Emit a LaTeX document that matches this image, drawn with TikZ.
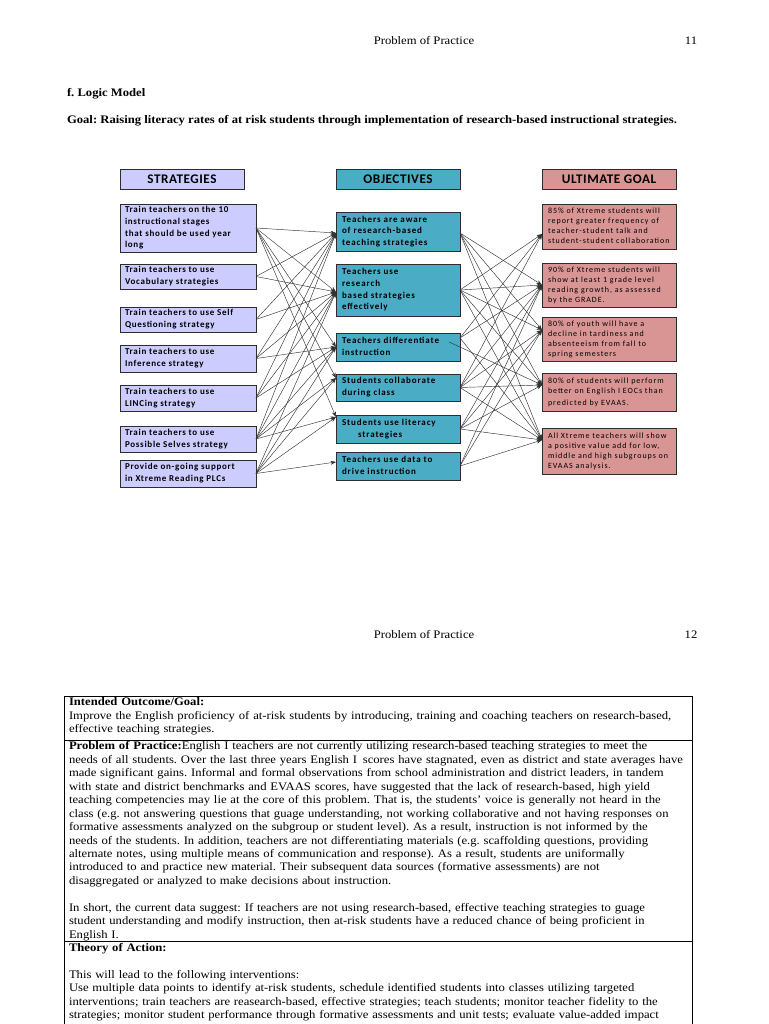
\documentclass[tikz,border=0pt]{standalone}
\usepackage{fontspec}
\setmainfont{Liberation Serif}[FakeStretch=1.1]
\newfontfamily\diag[LetterSpace=8]{Carlito}
\newfontfamily\diagobj[LetterSpace=10]{Carlito}
\newfontfamily\diagg[LetterSpace=12]{Carlito}
\newfontfamily\diaghdr[LetterSpace=4]{Carlito}
\usetikzlibrary{arrows.meta,calc}
\definecolor{stratfill}{RGB}{204,204,255}
\definecolor{objfill}{RGB}{75,172,198}
\definecolor{goalfill}{RGB}{217,149,148}
\definecolor{edgec}{RGB}{45,45,45}
\newcommand{\boxlines}[2]{\makebox[#1][l]{\begin{tabular}{@{}l@{}}#2\end{tabular}}}
\AtBeginDocument{\frenchspacing}
\begin{document}
\begin{tikzpicture}[x=1pt,y=-1pt,
  every node/.style={inner sep=0pt, outer sep=0pt},
  pagetext/.style={font=\fontsize{11.5}{13.6}\selectfont},
  hdr/.style={draw=edgec, line width=0.8pt, minimum height=20pt, font=\diaghdr\fontsize{13.2}{14}\selectfont\bfseries},
  sbox/.style={draw=edgec, line width=0.8pt, fill=stratfill, inner xsep=5pt, minimum width=136pt, font=\diag\fontsize{9}{11.7}\selectfont\bfseries},
  obox/.style={draw=edgec, line width=0.8pt, fill=objfill, inner xsep=6pt, minimum width=124pt, font=\diagobj\fontsize{9}{11.7}\selectfont\bfseries},
  gbox/.style={draw=edgec, line width=0.8pt, fill=goalfill, inner xsep=6pt, minimum width=134pt, font=\diagg\fontsize{8}{10}\selectfont},
  link/.style={draw=black!80, line width=0.45pt, -{Stealth[length=5.5pt,width=4pt]}},
  rowtext/.style={anchor=north west, align=left, text width=660pt, font=\fontsize{11.5}{13.45}\selectfont},
]
\useasboundingbox[fill=white] (0,0) rectangle (768,1024);

% ---------- page 11 ----------
\node[pagetext] (p1title) at (424,41) {Problem of Practice};
\node[pagetext] (p1num) at (691,41) {11};
\node[pagetext, anchor=west, font=\fontsize{11.5}{13.6}\selectfont\bfseries] (sect) at (67,94) {f. Logic Model};
\node[pagetext, anchor=west, font=\fontsize{11.5}{13.6}\selectfont\bfseries] (goal) at (67,121) {Goal: Raising literacy rates of at risk students through implementation of research-based instructional strategies.};

% headers
\node[hdr, fill=stratfill, minimum width=124pt] (HS) at (182,179) {STRATEGIES};
\node[hdr, fill=objfill, minimum width=124pt] (HO) at (398,179) {OBJECTIVES};
\node[hdr, fill=goalfill, minimum width=134pt] (HG) at (609,179) {ULTIMATE GOAL};

% strategies
\node[sbox, minimum height=48pt] (S1) at (188,228) {\boxlines{126pt}{Train teachers on the 10\\instructional stages\\that should be used year\\long}};
\node[sbox, minimum height=25pt] (S2) at (188,276.5) {\boxlines{126pt}{Train teachers to use\\Vocabulary strategies}};
\node[sbox, minimum height=25pt] (S3) at (188,319.5) {\boxlines{126pt}{Train teachers to use Self\\Questioning strategy}};
\node[sbox, minimum height=27pt] (S4) at (188,358.5) {\boxlines{126pt}{Train teachers to use\\Inference strategy}};
\node[sbox, minimum height=26pt] (S5) at (188,398) {\boxlines{126pt}{Train teachers to use\\LINCing strategy}};
\node[sbox, minimum height=26pt] (S6) at (188,439) {\boxlines{126pt}{Train teachers to use\\Possible Selves strategy}};
\node[sbox, minimum height=27pt] (S7) at (188,473.5) {\boxlines{126pt}{Provide on-going support\\in Xtreme Reading PLCs}};

% objectives
\node[obox, minimum height=39pt] (O1) at (398,231.5) {\boxlines{112pt}{Teachers are aware\\of research-based\\teaching strategies}};
\node[obox, minimum height=52pt] (O2) at (398,290) {\boxlines{112pt}{Teachers use\\research\\based strategies\\effectively}};
\node[obox, minimum height=28pt] (O3) at (398,347) {\boxlines{112pt}{Teachers differentiate\\instruction}};
\node[obox, minimum height=27pt] (O4) at (398,387.5) {\boxlines{112pt}{Students collaborate\\during class}};
\node[obox, minimum height=28pt] (O5) at (398,429) {\boxlines{112pt}{Students use literacy\\\hspace*{16pt}strategies}};
\node[obox, minimum height=28pt] (O6) at (398,466) {\boxlines{112pt}{Teachers use data to\\drive instruction}};

% goals
\node[gbox, minimum height=45pt] (G1) at (609,226.5) {\boxlines{122pt}{85\% of Xtreme students will\\report greater frequency of\\teacher-student talk and\\student-student collaboration}};
\node[gbox, minimum height=44pt] (G2) at (609,285) {\boxlines{122pt}{90\% of Xtreme students will\\show at least 1 grade level\\reading growth, as assessed\\by the GRADE.}};
\node[gbox, minimum height=44pt] (G3) at (609,339) {\boxlines{122pt}{80\% of youth will have a\\decline in tardiness and\\absenteeism from fall to\\spring semesters}};
\node[gbox, minimum height=38pt] (G4) at (609,392) {\boxlines{122pt}{80\% of students will perform\\better on English I EOCs than\\[2pt]predicted by EVAAS.}};
\node[gbox, minimum height=46pt] (G5) at (609,451) {\boxlines{122pt}{All Xtreme teachers will show\\a positive value add for low,\\middle and high subgroups on\\EVAAS analysis.}};

% connector end points
\coordinate (o1in) at ([yshift=-1.5pt]O1.west);
\coordinate (o2in) at ([yshift=-2pt]O2.west);
\coordinate (o3in) at (O3.west);
\coordinate (o4in) at ([yshift=9.5pt]O4.west);
\coordinate (o5in) at ([yshift=12pt]O5.west);
\coordinate (o6in) at ([yshift=4pt]O6.west);

\coordinate (o1out) at ([yshift=-1.5pt]O1.east);
\coordinate (o2out) at (O2.east);
\coordinate (o3out) at ([yshift=9pt]O3.east);
\coordinate (o3inner) at ([xshift=-11pt,yshift=5pt]O3.east);
\coordinate (o4out) at (O4.east);
\coordinate (o5out) at (O5.east);
\coordinate (o6out) at (O6.east);

\coordinate (g1in) at ([yshift=-7.5pt]G1.west);
\coordinate (g2in) at (G2.west);
\coordinate (g3in) at ([yshift=9pt]G3.west);
\coordinate (g4in) at ([yshift=7pt]G4.west);
\coordinate (g5in) at ([yshift=11pt]G5.west);

% strategies -> objectives
\foreach \s/\o in {S1/o1in,S1/o2in,S1/o3in,S1/o4in,S1/o5in,
                   S2/o1in,S2/o2in,
                   S3/o1in,S3/o2in,
                   S4/o1in,S4/o2in,S4/o3in,
                   S5/o1in,S5/o2in,S5/o3in,
                   S6/o1in,S6/o2in,S6/o3in,S6/o4in,S6/o5in,
                   S7/o2in,S7/o3in,S7/o4in,S7/o5in,S7/o6in}
  \draw[link] (\s.east) -- (\o);

% objectives -> goals
\foreach \o/\g in {o1out/g2in,o1out/g3in,o1out/g4in,o1out/g5in,
                   o2out/g1in,o2out/g2in,o2out/g3in,o2out/g4in,o2out/g5in,
                   o3out/g1in,o3out/g2in,o3inner/g4in,o3out/g5in,
                   o4out/g1in,o4out/g2in,o4out/g3in,o4out/g4in,o4out/g5in,
                   o5out/g2in,o5out/g3in,o5out/g4in,o5out/g5in,
                   o6out/g2in,o6out/g3in,o6out/g5in}
  \draw[link] (\o) -- (\g);

% ---------- page 12 ----------
\node[pagetext] (p2title) at (424,635) {Problem of Practice};
\node[pagetext] (p2num) at (691,635) {12};

\coordinate (tl) at (64,696);
\coordinate (tr) at (692,696);
\coordinate (s1l) at (64,740);
\coordinate (s1r) at (692,740);
\coordinate (s2l) at (64,941);
\coordinate (s2r) at (692,941);
\coordinate (bl) at (64,1025);
\coordinate (br) at (692,1025);
\draw[line width=0.6pt] (bl) -- (tl) -- (tr) -- (br);
\draw[line width=0.6pt] (s1l) -- (s1r);
\draw[line width=0.6pt] (s2l) -- (s2r);

\node[rowtext] (row1) at (69,698) {\textbf{Intended Outcome/Goal:}\\
Improve the English proficiency of at-risk students by introducing, training and coaching teachers on research-based,\\
effective teaching strategies.};

\node[rowtext] (row2) at (69,741.8) {\textbf{Problem of Practice:}English I teachers are not currently utilizing research-based teaching strategies to meet the\\
needs of all students. Over the last three years English I\, scores have stagnated, even as district and state averages have\\
made significant gains. Informal and formal observations from school administration and district leaders, in tandem\\
with state and district benchmarks and EVAAS scores, have suggested that the lack of research-based, high yield\\
teaching competencies may lie at the core of this problem. That is, the students' voice is generally not heard in the\\
class (e.g. not answering questions that guage understanding, not working collaborative and not having responses on\\
formative assessments analyzed on the subgroup or student level). As a result, instruction is not informed by the\\
needs of the students. In addition, teachers are not differentiating materials (e.g. scaffolding questions, providing\\
alternate notes, using multiple means of communication and response). As a result, students are uniformally\\
introduced to and practice new material. Their subsequent data sources (formative assessments) are not\\
disaggregated or analyzed to make decisions about instruction.\\[13.45pt]
In short, the current data suggest: If teachers are not using research-based, effective teaching strategies to guage\\
student understanding and modify instruction, then at-risk students have a reduced chance of being proficient in\\
English I.};

\node[rowtext] (row3) at (69,943) {\textbf{Theory of Action:}\\[13.57pt]
This will lead to the following interventions:\\
Use multiple data points to identify at-risk students, schedule identified students into classes utilizing targeted\\
interventions; train teachers are reasearch-based, effective strategies; teach students; monitor teacher fidelity to the\\
strategies; monitor student performance through formative assessments and unit tests; evaluate value-added impact};
\end{tikzpicture}
\end{document}
